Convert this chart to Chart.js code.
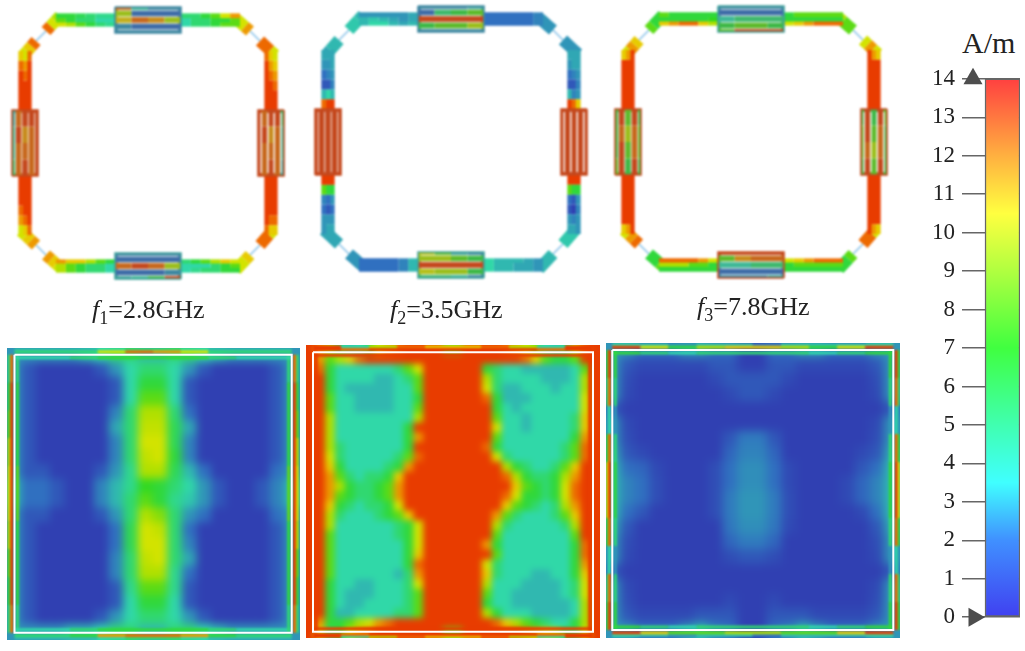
<!DOCTYPE html>
<html>
<head>
<meta charset="utf-8">
<script src="https://cdn.jsdelivr.net/npm/chart.js@4"></script>
<style>
  html, body { margin: 0; padding: 0; background: #fff; }
  #page { position: relative; width: 1025px; height: 651px; overflow: hidden; }
  #page canvas { position: absolute; }
  .box { position: absolute; overflow: hidden; }
  .label { position: absolute; font-family: "Liberation Serif", serif; font-size: 26px; color: #222; white-space: nowrap; }
  .label sub { font-size: 18px; line-height: 0; }
</style>
</head>
<body>
<div id="page"></div>
<script>
// colour scale of the field plots, A/m
var scaleValues = [0, 1, 2, 3, 4, 5, 6, 7.5, 9, 10.5, 12.5, 14];
var scaleColors = ['#2f2fa8', '#3040b2', '#3070c0', '#3095b8', '#30b8b0', '#30d8a8', '#30d870', '#30d820', '#b0e000', '#e4e400', '#f08000', '#e83c00'];

// colour bar
var barTicks = [0, 14];
var barStopValues = [0, 2, 3.5, 5, 7, 9, 10.5, 12, 14];
var barStopColors = ['#4040f0', '#4090ff', '#40ffff', '#40ffb0', '#40ff40', '#b0ff40', '#ffff40', '#ffb040', '#ff4040'];

// ring strips, order: top L, top R, right T, right B, bottom R, bottom L, left B, left T
// each one is outer lane, middle lane, inner lane, running clockwise
var ringF1Strips = [
  [[7,7,6.5,6,5.5,5.5],[8,7,6,6,5,5],[10,9,8,7,6,5.5]],
  [[6,6,7,8,10,12],[5,6,6,7,7,8],[5,6,6,7,8,8]],
  [[10,11,12,13,14,14],[11,12,13,14,14,14],[13,14,14,14,14,14]],
  [[14,14,14,14,13,11],[14,14,14,14,13,11],[14,14,14,14,14,13]],
  [[7,7,6,6,5.5,5],[8,7,6,5,5,5],[10,11,9,8,7,6]],
  [[5,6,6,7,8,9],[5,6,6,7,8,9],[7,8,9,11,11,12]],
  [[10,12,13,14,14,14],[11,13,14,14,14,14],[13,14,14,14,14,14]],
  [[14,14,14,14,13,11],[14,14,14,13,12,10],[14,14,14,14,14,13]]
];
var ringF2Strips = [
  [[3,3,3,3,3,3.5],[4,4.5,4,3.5,3,3.5],[4,5,5,4,3.5,4]],
  [[2,2,2,2,2,2.5],[2,2,2,2,2,2.5],[2,2,2,2,2,2.5]],
  [[3.5,3.5,3,2.5,3,11],[3.5,3.5,2.5,1.5,2.5,13],[3.5,3,2,1.5,4,14]],
  [[14,7,3,2.5,3,3],[14,7,1.5,1,2.5,3.5],[14,8,2,1.5,3,3.5]],
  [[3,3.5,3.5,4,4,5],[3,3.5,3.5,4,4,5],[3,3.5,4,4,4,5]],
  [[4,2.5,2,2,2,2],[4,2.5,2,2,2,2],[4,2.5,2,2,2,2]],
  [[3,3,2,2.5,8,14],[3.5,3,1.5,2,7,14],[3.5,3,2,3,7,14]],
  [[13,4,1.5,2,3,3.5],[14,5,1.5,2.5,3,3.5],[14,4,2.5,3,3.5,3.5]]
];
var ringF3Strips = [
  [[8,7,7,7,7,7],[7,7,7,7,7,7.5],[11,12,13,13,11,9]],
  [[7,8,8,8,8,8],[7,7,7,7,7,7],[10,11,12,13,13,13]],
  [[11,14,14,14,14,14],[12,14,14,14,14,14],[14,14,14,14,14,14]],
  [[14,14,14,14,14,11],[14,14,14,14,14,12],[14,14,14,14,14,14]],
  [[7,7,7,7,7,7],[8,8,8,8,8,7],[13,13,13,12,11,10]],
  [[7,7,7,7,7,7],[7,8,8,9,9,9],[10,12,13,13,13,13]],
  [[11,14,14,14,14,14],[12,14,14,14,14,14],[14,14,14,14,14,14]],
  [[14,14,14,14,14,11],[14,14,14,14,14,12],[14,14,14,14,14,14]]
];

// chamfered corner pieces, clockwise: TR A, TR B, BR A, BR B, BL A, BL B, TL A, TL B
var ringF1Corners = [[10,10,12],[13,13,10],[10,13,13],[11,10,10],[10,11,12],[12,11,10],[10,11,13],[13,10,9]];
var ringF2Corners = [[3,3,3],[3,3,3],[4.5,4.5,4.5],[4,4,4],[3,3,3],[3.5,3.5,3.5],[3.5,4,4],[4.5,4.5,4]];
var ringF3Corners = [[9,8,8],[10,12,10],[10,13,13],[8,7,7],[8,7,7],[13,12,10],[10,12,11],[8,7,7]];

// interdigital caps: top, right, bottom, left, five lanes outer to inner
var ringF1Caps = [
  [[13,5,3,3],[9,2,2,2],[11,13,12,9],[3,2,2,2],[3,3,3,3]],
  [[6,5,5,4],[14,13,13,13],[14,12,13,14],[13,14,13,13],[14,14,14,14]],
  [[14,7,5,4],[3,2,2,2],[9,13,14,13],[2,2,2,2],[3,3,3,3]],
  [[6,5,5,4],[13,13,14,13],[14,13,12,14],[13,13,13,14],[14,14,14,14]]
];
var ringF2Caps = [
  [[3,3,3,4],[2,6,7,8],[14,14,14,14],[7,8,8,9],[3,3,3,3]],
  [[14,14,14,14],[14,14,14,14],[14,14,14,14],[14,14,14,14],[14,14,14,14]],
  [[3,5,6,6],[7,9,9,10],[14,14,14,14],[7,8,9,9],[3,4,8,10]],
  [[14,14,14,14],[14,14,14,14],[14,14,14,14],[14,14,14,14],[14,14,14,14]]
];
var ringF3Caps = [
  [[3,3,3,3],[2,2,2,2],[5,6,6,6],[7,8,8,7],[8,14,14,14]],
  [[8,7,7,7],[14,13,13,14],[7,8,9,8],[14,14,13,14],[7,8,8,7]],
  [[4,3,3,3],[2,2,2,2],[6,6,5,5],[13,13,12,8],[14,14,14,14]],
  [[8,7,7,7],[14,14,13,14],[7,8,9,8],[14,13,13,14],[7,8,8,7]]
];
var ringF1CapFrames = [3, 14, 4, 14];
var ringF2CapFrames = [3, 14, 4, 14];
var ringF3CapFrames = [4, 14, 14, 14];

// field on the lower patches, rows top to bottom
var heatF1 = [
  [3,3,3,3,3,4,5,6,6,4,4,6,6,5,4,3,3,3,3,3],
  [3,1.5,1,1,1,1,1.5,3,5,6,6,5,3,1.5,1,1,1,1,1.5,3],
  [3,1.5,1,1,1,1,1,1.5,5,7,7,5,1.5,1,1,1,1,1,1.5,3],
  [3,1.5,1,1,1,1,1,1.5,5,8,8,5,1.5,1,1,1,1,1,1.5,3],
  [3,1.5,1,1,1,1,1,2.5,6,9,9,6,2,1,1,1,1,1,1.5,3],
  [3,1.5,1,1,1,1,1,3.5,6,9.5,9.5,6.5,3.5,1,1,1,1,1,1.5,3],
  [3,1.5,1,1,1,1,1,2.5,6,10,10,6.5,2.5,1,1,1,1,1,1.5,3],
  [3,1.5,1,1,1,1,1,2.5,6,9.5,10,7,2.5,1,1,1,1,1,1.5,3],
  [3,1.5,1.5,1,1,1,1.5,3,5.5,9,9,6.5,4,2,1,1,1,1,2,3],
  [4,2,2,1.5,1,1,2.5,4,5.5,7.5,7,6,5,3,1.5,1,1,1.5,2.5,4],
  [4,2,2,1.5,1,1,2.5,4,6,8,7,5.5,4.5,3,1.5,1,1,1.5,2.5,4],
  [3,1.5,1.5,1,1,1,1.5,3,6,9,8.5,6,3,2,1,1,1,1,2,3],
  [3,1.5,1,1,1,1,1,2,6.5,10,9.5,6,2,1,1,1,1,1,1.5,3],
  [3,1.5,1,1,1,1,1,2,6.5,10,10,6,2.5,1,1,1,1,1,1.5,3],
  [3,1.5,1,1,1,1,1,2.5,6,9.5,10,6,3.5,1,1,1,1,1,1.5,3],
  [3,1.5,1,1,1,1,1,2.5,6,9,9,5.5,2,1,1,1,1,1,1.5,3],
  [3,1.5,1,1,1,1,1,1.5,5.5,8,8,5.5,1.5,1,1,1,1,1,1.5,3],
  [3,1.5,1,1,1,1,1,1.5,5,7,7,5,1.5,1,1,1,1,1,1.5,3],
  [3,1.5,1,1,1,1,1.5,3,5,6,6,5,3,1.5,1,1,1,1,1.5,3],
  [3,3,3,3,4,4,5,6,6,4,4,6,6,5,4,3,3,3,3,3]
];
var heatF2 = [
  [14,12,9,6,4,5,7,10,12,13,14,14, 14,14,8,8,14,14, 14,14,13,12,10,8,5,4,6,10,13,14],
  [14,12,8,9,11,13,14,14,14,14,14,14, 14,14,14,14,14,14, 14,14,14,14,13,11,8,7,7,8,14,14],
  [14,13,7,5,5,5,5,5,5,6,8,10, 14,14,14,14,14,14, 7,6,5,5,4,4,4,4,4,5,8,14],
  [14,14,7,5,5,5,5,4,4,5,6,8, 14,14,14,14,14,14, 9,6,5,5,5,5,4,4,4,5,9,14],
  [14,14,7,5,4,4,4,4,4,5,5,8, 14,14,14,14,14,14, 10,6,4,4,5,5,5,4,5,5,9,14],
  [14,14,8,5,5,4,4,4,4,5,5,7, 14,14,14,14,14,14, 13,7,4,4,4,5,5,5,5,5,10,14],
  [14,14,8,5,5,4,4,4,4,5,5,8, 14,14,14,14,14,14, 14,7,5,4,5,5,5,5,5,5,10,14],
  [14,14,9,5,5,5,5,5,5,5,5,9, 14,14,14,14,14,14, 14,8,5,5,4,5,5,5,5,6,11,14],
  [14,14,9,5,5,5,5,5,5,5,7,14, 14,14,14,14,14,14, 14,10,5,5,4,5,5,5,5,6,11,14],
  [14,14,9,5,5,5,5,5,5,5,7,12, 14,14,14,14,14,14, 14,8,5,5,5,5,5,5,5,7,12,14],
  [14,14,9,6,5,5,5,5,5,5,7,14, 14,14,14,14,14,14, 13,7,5,5,5,5,5,5,6,8,13,14],
  [14,14,10,6,5,5,5,5,5,6,8,13, 14,14,14,14,14,14, 14,10,6,5,5,5,5,5,6,8,13,14],
  [14,14,11,7,5,5,5,5,6,7,12,14, 14,14,14,14,14,14, 14,14,9,7,6,5,5,6,8,11,14,14],
  [14,14,12,8,6,5,6,6,7,11,14,14, 14,14,14,14,14,14, 14,14,13,9,7,6,6,7,9,12,14,14],
  [14,14,12,9,7,6,6,7,8,12,14,14, 14,14,14,14,14,14, 14,14,14,11,8,7,6,7,10,13,14,14],
  [14,14,12,8,7,6,6,7,8,12,14,14, 14,14,14,14,14,14, 14,14,13,10,7,7,6,7,10,13,14,14],
  [14,14,11,7,6,5,6,6,7,10,14,14, 14,14,14,14,14,14, 14,14,11,8,7,6,5,6,9,12,14,14],
  [14,14,9,6,5,5,5,6,7,8,11,14, 14,14,14,14,14,14, 14,12,8,6,5,5,5,6,8,11,14,14],
  [14,14,9,5,5,5,5,5,5,6,7,10, 14,14,14,14,14,14, 14,9,6,5,5,5,5,5,6,9,14,14],
  [14,14,8,5,5,5,5,5,5,6,7,10, 14,14,14,14,14,14, 14,8,5,5,5,5,5,5,5,8,14,14],
  [14,14,8,5,5,5,5,5,5,5,7,10, 14,14,14,14,14,14, 12,7,5,5,5,5,5,5,5,7,13,14],
  [14,14,8,5,5,5,5,5,5,5,7,11, 14,14,14,14,14,14, 14,8,5,5,5,5,5,5,5,7,13,14],
  [14,14,8,5,5,5,5,5,5,5,7,13, 14,14,14,14,14,14, 10,6,5,5,5,5,5,5,5,7,12,14],
  [14,14,8,5,5,5,5,5,5,4,6,12, 14,14,14,14,14,14, 11,6,5,5,5,4,4,5,5,7,11,14],
  [14,14,7,5,5,4,4,5,5,5,6,10, 14,14,14,14,14,14, 9,5,5,5,4,4,4,4,5,6,10,14],
  [14,14,7,5,4,4,4,5,5,5,6,8, 14,14,14,14,14,14, 8,5,5,4,4,4,4,4,5,6,10,14],
  [14,14,7,5,4,4,5,5,5,5,6,8, 14,14,14,14,14,14, 7,5,5,4,4,4,4,4,4,5,9,14],
  [14,14,7,4,4,5,5,5,5,6,6,8, 14,14,14,14,14,14, 9,7,5,5,5,4,4,4,4,5,9,14],
  [14,12,7,7,8,9,10,12,13,14,14,14, 14,14,14,14,14,14, 14,13,11,9,8,7,6,5,5,7,9,14],
  [14,10,6,7,10,12,13,14,14,14,14,14, 14,14,8,8,14,14, 14,14,14,14,13,12,11,9,7,6,10,14]
];
var heatF3 = [
  [3,3,2,2,2,3,3,2,2,1,1,2,2,3,3,2,2,2,3,3],
  [3,1.5,1.2,1.2,1.2,1.2,1.2,1.5,1.5,1,1,1.5,1.5,1.2,1.2,1.2,1.2,1.2,1.5,3],
  [3,1.3,1,1,1,1,1,1.2,1.5,1.5,1.5,1.5,1.2,1,1,1,1,1,1.3,3],
  [3,1.2,1,1,1,1,1,1,1.2,1.5,1.5,1.2,1,1,1,1,1,1,1.2,3],
  [1.5,1,1,1,1,1,1,1,1,1,1,1,1,1,1,1,1,1,1,1.5],
  [3,1.2,1,1,1,1,1,1,1,1,1,1,1,1,1,1,1,1,1.2,3],
  [3,1.3,1,1,1,1,1,1,1.5,2.3,2.3,1.5,1,1,1,1,1,1,1.3,3],
  [3.5,1.5,1.2,1,1,1,1,1,1.8,2.5,2.5,1.8,1,1,1,1,1,1.2,1.5,3.5],
  [4,2,1.8,1.2,1,1,1,1.3,2,2.8,2.8,2,1.2,1,1,1,1,1.5,2,4],
  [4,2.5,2,1.3,1,1,1,1.3,2,2.8,2.8,2,1.2,1,1,1,1.2,1.8,2.5,4],
  [4,2.5,2,1.3,1,1,1,1.3,2.3,3,3,2.3,1.3,1,1,1,1.2,1.8,2.5,4],
  [4,2,1.5,1,1,1,1,1.3,2.3,3,3,2.3,1.3,1,1,1,1,1.2,2,4],
  [3.5,1.5,1,1,1,1,1,1,2.2,2.8,2.8,2.2,1.2,1,1,1,1,1,1.5,3.5],
  [3,1.3,1,1,1,1,1,1,1.8,2.3,2.3,1.8,1,1,1,1,1,1,1.3,3],
  [3,1.2,1,1,1,1,1,1,1.3,1.5,1.5,1.3,1,1,1,1,1,1,1.2,3],
  [1.5,1,1,1,1,1,1,1,1,1,1,1,1,1,1,1,1,1,1,1.5],
  [3,1.2,1,1,1,1,1,1,1,1,1,1,1,1,1,1,1,1,1.2,3],
  [3,1.3,1,1,1,1,1,1,1.2,1,1,1.2,1,1,1,1,1,1,1.3,3],
  [3,1.5,1.2,1.2,1.2,1.2,1.5,1.5,1.5,1,1,1.5,1.5,1.5,1.2,1.2,1.2,1.2,1.5,3],
  [3,3,2,2,2,3,4,2.5,2,1,1,2,2.5,4,3,2,2,2,3,3]
];

// bands around the white outline: top, right, bottom, left; far, next to it outside, next to it inside
var edgeF1 = [
  [[4,4,4,5,6,6,5,4,4,4],[6,6,6,10,13,12,10,6,6,6],[5,5,6,7,7,7,7,6,5,5]],
  [[6,7,8,9,10,10,9,8,7,6],[13,14,14,14,14,14,14,14,14,13],[6,7,7,7,8,8,7,7,7,6]],
  [[4,4,4,5,6,6,5,4,4,4],[6,6,7,12,13,13,12,7,6,6],[5,5,6,7,7,7,7,6,5,5]],
  [[6,7,8,9,10,10,9,8,7,6],[13,14,14,14,14,14,14,14,14,13],[6,7,7,7,8,8,7,7,7,6]]
];
var edgeF2 = [
  [[14,5,9,13,11,11,13,9,5,14],[14,13,14,14,14,14,14,14,13,14],[14,14,14,14,14,14,14,14,14,14]],
  [[14,14,14,14,14,14,14,14,14,14],[14,14,14,14,14,14,14,14,14,14],[14,14,14,14,14,14,14,14,14,14]],
  [[14,5,9,13,11,11,13,9,5,14],[14,13,14,14,14,14,14,14,13,14],[14,14,14,14,14,14,14,14,14,14]],
  [[14,14,14,14,14,14,14,14,14,14],[14,14,14,14,14,14,14,14,14,14],[14,14,14,14,14,14,14,14,14,14]]
];
var edgeF3 = [
  [[5,4,3,4,4,2,4,4,4,5],[14,10,7,9,11,11,9,7,10,14],[7,6,5,6,6,6,6,5,6,7]],
  [[7,6,3,7,10,10,7,3,6,7],[14,13,5,13,14,14,13,5,13,14],[7,6,3,6,7,7,6,3,6,7]],
  [[5,4,3,4,4,2,4,4,4,5],[14,11,8,8,9,9,8,8,11,14],[7,6,5,6,6,6,6,5,6,7]],
  [[7,6,3,7,10,10,7,3,6,7],[14,13,5,13,14,14,13,5,13,14],[7,6,3,6,7,7,6,3,6,7]]
];

var page = document.getElementById('page');

function lerpColor(v, values, colors) {
  if (v <= values[0]) return colors[0];
  for (var i = 1; i < values.length; i++) {
    if (v <= values[i]) {
      var t = (v - values[i - 1]) / (values[i] - values[i - 1]);
      var a = parseInt(colors[i - 1].slice(1), 16), b = parseInt(colors[i].slice(1), 16);
      var r = Math.round((a >> 16) + ((b >> 16) - (a >> 16)) * t);
      var g = Math.round(((a >> 8) & 255) + (((b >> 8) & 255) - ((a >> 8) & 255)) * t);
      var bl = Math.round((a & 255) + ((b & 255) - (a & 255)) * t);
      return 'rgb(' + r + ',' + g + ',' + bl + ')';
    }
  }
  return colors[colors.length - 1];
}
function heatColor(v) { return lerpColor(v, scaleValues, scaleColors); }

// the metal fingers read duller than the bare strips
function capColor(v) {
  var p = heatColor(v).match(/\d+/g) || [232, 60, 0];
  var c = p.map(function (n) { return Math.round(n * 0.72 + 128 * 0.28 * 0.8); });
  return 'rgb(' + c.join(',') + ')';
}

function makeCanvas(parent, left, top, width, height, blur) {
  var c = document.createElement('canvas');
  c.width = width; c.height = height;
  c.style.left = left + 'px'; c.style.top = top + 'px';
  c.style.width = width + 'px'; c.style.height = height + 'px';
  if (blur) c.style.filter = 'blur(' + blur + 'px)';
  parent.appendChild(c);
  return c;
}

function plainOptions(xMin, xMax, yMin, yMax) {
  return {
    responsive: false,
    animation: false,
    events: [],
    layout: { padding: 0, autoPadding: false },
    plugins: { legend: { display: false }, tooltip: { enabled: false } },
    scales: {
      x: { type: 'linear', display: false, min: xMin, max: xMax },
      y: { type: 'linear', display: false, min: yMin, max: yMax, reverse: true }
    }
  };
}

function lane(points, values, width, order, colorFn) {
  var fn = colorFn || heatColor;
  return {
    data: points,
    borderWidth: width,
    borderColor: fn(values[0]),
    pointRadius: 0,
    tension: 0,
    borderCapStyle: 'butt',
    order: order,
    segment: { borderColor: function (c) { return fn(values[c.p0DataIndex]); } }
  };
}

function solid(points, color, width, order) {
  return { data: points, borderWidth: width, borderColor: color, pointRadius: 0, tension: 0, borderCapStyle: 'butt', order: order };
}

// side-local coordinates: s along the side, t outward; side 0 is the top, turning clockwise
function turn(side, s, t) {
  var p = { x: s, y: -123 - t };
  for (var i = 0; i < side; i++) p = { x: -p.y, y: p.x };
  return p;
}
function along(side, s0, t0, s1, t1, count) {
  var pts = [];
  for (var i = 0; i <= count; i++) {
    pts.push(turn(side, s0 + (s1 - s0) * i / count, t0 + (t1 - t0) * i / count));
  }
  return pts;
}

function drawRing(cx, cy, strips, corners, caps, capFrames) {
  var sets = [];
  var laneOffsets = [4.2, 0, -4.2];
  var capOffsets = [11.25, 6.5, 0, -6.5, -11.25];
  var capWidths = [3.5, 6.7, 6.7, 6.7, 3.5];
  var fingerOffsets = [-9.75, -3.25, 3.25, 9.75];
  for (var side = 0; side < 4; side++) {
    [strips[side * 2], strips[side * 2 + 1]].forEach(function (strip, half) {
      strip.forEach(function (values, l) {
        var s0 = half ? 33 : -92, s1 = half ? 92 : -33;
        sets.push(lane(along(side, s0, laneOffsets[l], s1, laneOffsets[l], values.length), values, 4.9, 3));
      });
    });
    caps[side].forEach(function (values, l) {
      var t = capOffsets[l];
      sets.push(lane(along(side, -33, t, 33, t, values.length), values, capWidths[l], 3, capColor));
    });
    var frame = [turn(side, -33, 13), turn(side, 33, 13), turn(side, 33, -13), turn(side, -33, -13), turn(side, -33, 13)];
    sets.push(solid(frame, capColor(capFrames[side]), 1.6, 2));
    fingerOffsets.forEach(function (t) {
      sets.push(solid(along(side, -30, t, 30, t, 1), 'rgba(255,255,255,0.85)', 1, 1));
    });
    // chamfers at the clockwise end of this side, and the thin link between them
    sets.push(lane(along(side, 87, 2, 102, -11, 3), corners[side * 2], 12, 4));
    sets.push(solid(along(side, 102, -11, 112, -21, 1), '#8cc4e8', 1.6, 5));
    sets.push(lane(along(side, 112, -21, 127, -35, 3), corners[side * 2 + 1], 12, 4));
  }
  var canvas = makeCanvas(page, cx - 150, cy - 150, 300, 300, 1);
  new Chart(canvas, { type: 'line', data: { datasets: sets }, options: plainOptions(-150, 150, -150, 150) });
}

function drawPatch(left, top, width, height, grid, blur, frame, edge) {
  var box = document.createElement('div');
  box.className = 'box';
  box.style.cssText = 'left:' + left + 'px;top:' + top + 'px;width:' + width + 'px;height:' + height + 'px';
  page.appendChild(box);

  var rows = grid.length, cols = grid[0].length;
  var cw = width / cols, ch = height / rows;
  var cells = [];
  // the rim rows and columns repeat the edge values so the blur does not fade out at the border
  for (var r = -1; r <= rows; r++) {
    for (var c = -1; c <= cols; c++) {
      var rr = Math.min(rows - 1, Math.max(0, r)), cc = Math.min(cols - 1, Math.max(0, c));
      cells.push({ x: c, y: r, v: grid[rr][cc] });
    }
  }
  var heatCanvas = makeCanvas(box, -cw, -ch, Math.round(width + 2 * cw), Math.round(height + 2 * ch), blur);
  new Chart(heatCanvas, {
    type: 'scatter',
    data: {
      datasets: [{
        data: cells,
        pointStyle: 'rect',
        pointRadius: (Math.max(cw, ch) + 1) / Math.SQRT2,
        pointBorderWidth: 0,
        pointBackgroundColor: function (c) { return heatColor(c.raw.v); }
      }]
    },
    options: plainOptions(-1.5, cols + 0.5, -1.5, rows + 0.5)
  });

  // bright bands that hug the outline, softened, then the white outline itself
  var x0 = frame[0], y0 = frame[1], x1 = frame[2], y1 = frame[3];
  var sets = [];
  var off = [5.5, 2.8, -3];
  edge.forEach(function (sideLanes, side) {
    sideLanes.forEach(function (values, l) {
      var d = off[l], pts = [];
      for (var i = 0; i <= values.length; i++) {
        var f = i / values.length;
        if (side === 0) pts.push({ x: x0 + (x1 - x0) * f, y: y0 - d });
        if (side === 2) pts.push({ x: x0 + (x1 - x0) * f, y: y1 + d });
        if (side === 1) pts.push({ x: x1 + d, y: y0 + (y1 - y0) * f });
        if (side === 3) pts.push({ x: x0 - d, y: y0 + (y1 - y0) * f });
      }
      sets.push(lane(pts, values, 3, l === 1 ? 2 : 3));
    });
  });
  var bandCanvas = makeCanvas(box, 0, 0, width, height, 0.9);
  new Chart(bandCanvas, { type: 'line', data: { datasets: sets }, options: plainOptions(0, width, 0, height) });

  var lineCanvas = makeCanvas(box, 0, 0, width, height, 0.4);
  new Chart(lineCanvas, {
    type: 'line',
    data: { datasets: [solid([{x:x0,y:y0},{x:x1,y:y0},{x:x1,y:y1},{x:x0,y:y1},{x:x0,y:y0}], '#ffffff', 2, 1)] },
    options: plainOptions(0, width, 0, height)
  });
}

function drawColorBar() {
  var canvas = makeCanvas(page, 925, 58, 100, 580, 0.3);
  new Chart(canvas, {
    type: 'bar',
    data: {
      datasets: [
        {
          type: 'scatter',
          data: [{ x: 11, y: barTicks[1] }],
          pointStyle: 'triangle',
          pointRadius: 11,
          pointRotation: 0,
          pointBackgroundColor: '#4d4d4d',
          pointBorderWidth: 0,
          clip: false,
          order: 1
        },
        {
          type: 'scatter',
          data: [{ x: 12, y: barTicks[0] }],
          pointStyle: 'triangle',
          pointRadius: 11,
          pointRotation: 90,
          pointBackgroundColor: '#4d4d4d',
          pointBorderWidth: 0,
          clip: false,
          order: 1
        },
        {
          data: [{ x: 40.5, y: [barTicks[0], barTicks[1]] }],
          barThickness: 35,
          borderColor: '#666666',
          borderWidth: 1.5,
          borderSkipped: false,
          order: 2,
          backgroundColor: function (c) {
            var area = c.chart.chartArea;
            if (!area) return '#ffffff';
            var y = c.chart.scales.y;
            var g = c.chart.ctx.createLinearGradient(0, y.getPixelForValue(0), 0, y.getPixelForValue(14));
            barStopValues.forEach(function (v, i) { g.addColorStop(v / 14, barStopColors[i]); });
            return g;
          }
        }
      ]
    },
    options: {
      responsive: false,
      animation: false,
      events: [],
      layout: { padding: { top: 20, bottom: 20, right: 5, left: 0 }, autoPadding: false },
      plugins: { legend: { display: false }, tooltip: { enabled: false } },
      scales: {
        x: { type: 'linear', display: false, min: 0, max: 58, offset: false, grid: { offset: false } },
        y: {
          type: 'linear',
          min: barTicks[0],
          max: barTicks[1],
          afterFit: function (axis) { axis.width = 37; },
          border: { display: false },
          grid: { color: '#666666', lineWidth: 1.5, drawTicks: false },
          ticks: {
            stepSize: 1,
            padding: 7,
            color: '#222222',
            font: { family: '"Liberation Serif", serif', size: 23 }
          }
        }
      }
    }
  });
}

function addLabel(left, top, html, size) {
  var d = document.createElement('div');
  d.className = 'label';
  d.style.left = left + 'px';
  d.style.top = top + 'px';
  if (size) d.style.fontSize = size + 'px';
  d.innerHTML = html;
  page.appendChild(d);
}

drawRing(148, 143, ringF1Strips, ringF1Corners, ringF1Caps, ringF1CapFrames);
drawRing(451, 142, ringF2Strips, ringF2Corners, ringF2Caps, ringF2CapFrames);
drawRing(750.5, 141.5, ringF3Strips, ringF3Corners, ringF3Caps, ringF3CapFrames);

drawPatch(7, 348, 293, 292, heatF1, 4.5, [7.5, 6.7, 284.7, 284.7], edgeF1);
drawPatch(306, 345, 294, 293, heatF2, 3, [7, 7.3, 287, 286.7], edgeF2);
drawPatch(606, 343, 294, 295, heatF3, 5, [6.3, 7, 287.3, 287], edgeF3);

addLabel(92, 295, '<i>f</i><sub>1</sub>=2.8GHz');
addLabel(390, 295, '<i>f</i><sub>2</sub>=3.5GHz');
addLabel(697, 292, '<i>f</i><sub>3</sub>=7.8GHz');
addLabel(962, 26, 'A/m', 30);

drawColorBar();
</script>
</body>
</html>
